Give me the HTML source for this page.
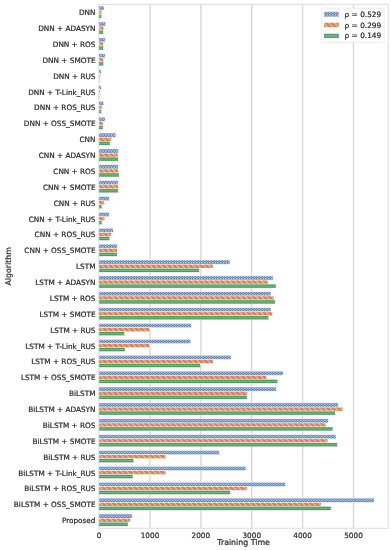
<!DOCTYPE html>
<html><head><meta charset="utf-8"><title>Training Time</title>
<style>
html,body{margin:0;padding:0;background:#fff;}
body{width:391px;height:550px;overflow:hidden;}
svg{display:block;}
text{font-family:"DejaVu Sans","Liberation Sans",sans-serif;fill:#262626;stroke:#262626;stroke-width:0.2px;}
</style></head><body>
<svg width="391" height="550" viewBox="0 0 391 550">
<defs>
<pattern id="hx" patternUnits="userSpaceOnUse" width="2.6667" height="2.6667" x="2.05" y="1.63">
<rect width="2.6667" height="2.6667" fill="#4a6fae"/>
<path d="M-1,-1 L3.6667,3.6667 M3.6667,-1 L-1,3.6667 M-1,1 L1,-1 M1.6667,3.6667 L3.6667,1.6667 M1.6667,-1 L3.6667,1 M-1,1.6667 L1,3.6667" stroke="#fff" stroke-width="0.5"/>
</pattern>
<pattern id="hxl" patternUnits="userSpaceOnUse" width="2.6667" height="2.6667" x="2.05" y="1.63">
<rect width="2.6667" height="2.6667" fill="#4a6fae"/>
<path d="M-1,-1 L3.6667,3.6667 M3.6667,-1 L-1,3.6667 M-1,1 L1,-1 M1.6667,3.6667 L3.6667,1.6667 M1.6667,-1 L3.6667,1 M-1,1.6667 L1,3.6667" stroke="#fff" stroke-width="0.5"/>
</pattern>
<pattern id="hb" patternUnits="userSpaceOnUse" width="5.3333" height="5.3333" x="2.1" y="0.0">
<rect width="5.3333" height="5.3333" fill="#dd8452"/>
<path d="M-1,-1 L6.3333,6.3333 M-1,4.3333 L1,6.3333 M4.3333,-1 L6.3333,1" stroke="#fff" stroke-width="0.7"/>
</pattern>
</defs>
<rect width="391" height="550" fill="#fff"/>

<line x1="150.0" y1="4.5" x2="150.0" y2="528.3" stroke="#d9d9d9" stroke-width="1.4"/>
<line x1="200.875" y1="4.5" x2="200.875" y2="528.3" stroke="#d9d9d9" stroke-width="1.4"/>
<line x1="251.75" y1="4.5" x2="251.75" y2="528.3" stroke="#d9d9d9" stroke-width="1.4"/>
<line x1="302.625" y1="4.5" x2="302.625" y2="528.3" stroke="#d9d9d9" stroke-width="1.4"/>
<line x1="353.5" y1="4.5" x2="353.5" y2="528.3" stroke="#d9d9d9" stroke-width="1.4"/>
<rect x="98.9" y="4.5" width="289.29999999999995" height="523.8" fill="none" stroke="#e2e2e2" stroke-width="1.2"/>
<rect x="98.90" y="6.03" width="5.22" height="4.27" fill="url(#hx)" stroke="#fff" stroke-width="0.45"/>
<rect x="98.90" y="10.30" width="2.92" height="3.97" fill="url(#hb)" stroke="#fff" stroke-width="0.45"/>
<rect x="98.90" y="14.27" width="2.72" height="3.97" fill="#4a9c5f" stroke="#fff" stroke-width="0.45"/>
<line x1="99.20" y1="16.25" x2="101.32" y2="16.25" stroke="#fff" stroke-opacity="0.3" stroke-width="0.9"/>
<rect x="98.90" y="21.91" width="6.72" height="4.27" fill="url(#hx)" stroke="#fff" stroke-width="0.45"/>
<rect x="98.90" y="26.17" width="4.92" height="3.97" fill="url(#hb)" stroke="#fff" stroke-width="0.45"/>
<rect x="98.90" y="30.14" width="4.42" height="3.97" fill="#4a9c5f" stroke="#fff" stroke-width="0.45"/>
<line x1="99.20" y1="32.13" x2="103.02" y2="32.13" stroke="#fff" stroke-opacity="0.3" stroke-width="0.9"/>
<rect x="98.90" y="37.78" width="6.22" height="4.27" fill="url(#hx)" stroke="#fff" stroke-width="0.45"/>
<rect x="98.90" y="42.05" width="4.52" height="3.97" fill="url(#hb)" stroke="#fff" stroke-width="0.45"/>
<rect x="98.90" y="46.02" width="4.42" height="3.97" fill="#4a9c5f" stroke="#fff" stroke-width="0.45"/>
<line x1="99.20" y1="48.00" x2="103.02" y2="48.00" stroke="#fff" stroke-opacity="0.3" stroke-width="0.9"/>
<rect x="98.90" y="53.65" width="6.22" height="4.27" fill="url(#hx)" stroke="#fff" stroke-width="0.45"/>
<rect x="98.90" y="57.92" width="4.72" height="3.97" fill="url(#hb)" stroke="#fff" stroke-width="0.45"/>
<rect x="98.90" y="61.89" width="4.72" height="3.97" fill="#4a9c5f" stroke="#fff" stroke-width="0.45"/>
<line x1="99.20" y1="63.87" x2="103.32" y2="63.87" stroke="#fff" stroke-opacity="0.3" stroke-width="0.9"/>
<rect x="98.90" y="69.52" width="2.32" height="4.27" fill="url(#hx)" stroke="#fff" stroke-width="0.45"/>
<rect x="98.90" y="73.79" width="1.52" height="3.97" fill="url(#hb)" stroke="#fff" stroke-width="0.45"/>
<rect x="98.90" y="77.76" width="0.52" height="3.97" fill="#4a9c5f" stroke="#fff" stroke-width="0.45"/>
<rect x="98.90" y="85.40" width="2.32" height="4.27" fill="url(#hx)" stroke="#fff" stroke-width="0.45"/>
<rect x="98.90" y="89.67" width="1.52" height="3.97" fill="url(#hb)" stroke="#fff" stroke-width="0.45"/>
<rect x="98.90" y="93.63" width="0.52" height="3.97" fill="#4a9c5f" stroke="#fff" stroke-width="0.45"/>
<rect x="98.90" y="101.27" width="4.92" height="4.27" fill="url(#hx)" stroke="#fff" stroke-width="0.45"/>
<rect x="98.90" y="105.54" width="3.02" height="3.97" fill="url(#hb)" stroke="#fff" stroke-width="0.45"/>
<rect x="98.90" y="109.51" width="2.62" height="3.97" fill="#4a9c5f" stroke="#fff" stroke-width="0.45"/>
<line x1="99.20" y1="111.49" x2="101.22" y2="111.49" stroke="#fff" stroke-opacity="0.3" stroke-width="0.9"/>
<rect x="98.90" y="117.14" width="6.22" height="4.27" fill="url(#hx)" stroke="#fff" stroke-width="0.45"/>
<rect x="98.90" y="121.41" width="4.12" height="3.97" fill="url(#hb)" stroke="#fff" stroke-width="0.45"/>
<rect x="98.90" y="125.38" width="4.12" height="3.97" fill="#4a9c5f" stroke="#fff" stroke-width="0.45"/>
<line x1="99.20" y1="127.36" x2="102.72" y2="127.36" stroke="#fff" stroke-opacity="0.3" stroke-width="0.9"/>
<rect x="98.90" y="133.02" width="16.92" height="4.27" fill="url(#hx)" stroke="#fff" stroke-width="0.45"/>
<rect x="98.90" y="137.28" width="12.52" height="3.97" fill="url(#hb)" stroke="#fff" stroke-width="0.45"/>
<rect x="98.90" y="141.25" width="11.12" height="3.97" fill="#4a9c5f" stroke="#fff" stroke-width="0.45"/>
<line x1="99.20" y1="143.24" x2="109.72" y2="143.24" stroke="#fff" stroke-opacity="0.3" stroke-width="0.9"/>
<rect x="98.90" y="148.89" width="19.62" height="4.27" fill="url(#hx)" stroke="#fff" stroke-width="0.45"/>
<rect x="98.90" y="153.16" width="19.02" height="3.97" fill="url(#hb)" stroke="#fff" stroke-width="0.45"/>
<rect x="98.90" y="157.12" width="19.32" height="3.97" fill="#4a9c5f" stroke="#fff" stroke-width="0.45"/>
<line x1="99.20" y1="159.11" x2="117.92" y2="159.11" stroke="#fff" stroke-opacity="0.3" stroke-width="0.9"/>
<rect x="98.90" y="164.76" width="19.32" height="4.27" fill="url(#hx)" stroke="#fff" stroke-width="0.45"/>
<rect x="98.90" y="169.03" width="19.32" height="3.97" fill="url(#hb)" stroke="#fff" stroke-width="0.45"/>
<rect x="98.90" y="173.00" width="20.12" height="3.97" fill="#4a9c5f" stroke="#fff" stroke-width="0.45"/>
<line x1="99.20" y1="174.98" x2="118.72" y2="174.98" stroke="#fff" stroke-opacity="0.3" stroke-width="0.9"/>
<rect x="98.90" y="180.63" width="19.32" height="4.27" fill="url(#hx)" stroke="#fff" stroke-width="0.45"/>
<rect x="98.90" y="184.90" width="19.52" height="3.97" fill="url(#hb)" stroke="#fff" stroke-width="0.45"/>
<rect x="98.90" y="188.87" width="19.32" height="3.97" fill="#4a9c5f" stroke="#fff" stroke-width="0.45"/>
<line x1="99.20" y1="190.85" x2="117.92" y2="190.85" stroke="#fff" stroke-opacity="0.3" stroke-width="0.9"/>
<rect x="98.90" y="196.51" width="10.32" height="4.27" fill="url(#hx)" stroke="#fff" stroke-width="0.45"/>
<rect x="98.90" y="200.77" width="5.52" height="3.97" fill="url(#hb)" stroke="#fff" stroke-width="0.45"/>
<rect x="98.90" y="204.74" width="3.02" height="3.97" fill="#4a9c5f" stroke="#fff" stroke-width="0.45"/>
<line x1="99.20" y1="206.73" x2="101.62" y2="206.73" stroke="#fff" stroke-opacity="0.3" stroke-width="0.9"/>
<rect x="98.90" y="212.38" width="10.32" height="4.27" fill="url(#hx)" stroke="#fff" stroke-width="0.45"/>
<rect x="98.90" y="216.65" width="5.92" height="3.97" fill="url(#hb)" stroke="#fff" stroke-width="0.45"/>
<rect x="98.90" y="220.62" width="3.02" height="3.97" fill="#4a9c5f" stroke="#fff" stroke-width="0.45"/>
<line x1="99.20" y1="222.60" x2="101.62" y2="222.60" stroke="#fff" stroke-opacity="0.3" stroke-width="0.9"/>
<rect x="98.90" y="228.25" width="14.32" height="4.27" fill="url(#hx)" stroke="#fff" stroke-width="0.45"/>
<rect x="98.90" y="232.52" width="12.32" height="3.97" fill="url(#hb)" stroke="#fff" stroke-width="0.45"/>
<rect x="98.90" y="236.49" width="10.82" height="3.97" fill="#4a9c5f" stroke="#fff" stroke-width="0.45"/>
<line x1="99.20" y1="238.47" x2="109.42" y2="238.47" stroke="#fff" stroke-opacity="0.3" stroke-width="0.9"/>
<rect x="98.90" y="244.12" width="18.32" height="4.27" fill="url(#hx)" stroke="#fff" stroke-width="0.45"/>
<rect x="98.90" y="248.39" width="18.32" height="3.97" fill="url(#hb)" stroke="#fff" stroke-width="0.45"/>
<rect x="98.90" y="252.36" width="18.32" height="3.97" fill="#4a9c5f" stroke="#fff" stroke-width="0.45"/>
<line x1="99.20" y1="254.35" x2="116.92" y2="254.35" stroke="#fff" stroke-opacity="0.3" stroke-width="0.9"/>
<rect x="98.90" y="260.00" width="131.12" height="4.27" fill="url(#hx)" stroke="#fff" stroke-width="0.45"/>
<rect x="98.90" y="264.27" width="114.12" height="3.97" fill="url(#hb)" stroke="#fff" stroke-width="0.45"/>
<rect x="98.90" y="268.23" width="100.52" height="3.97" fill="#4a9c5f" stroke="#fff" stroke-width="0.45"/>
<line x1="99.20" y1="270.22" x2="199.12" y2="270.22" stroke="#fff" stroke-opacity="0.3" stroke-width="0.9"/>
<rect x="98.90" y="275.87" width="174.12" height="4.27" fill="url(#hx)" stroke="#fff" stroke-width="0.45"/>
<rect x="98.90" y="280.14" width="169.22" height="3.97" fill="url(#hb)" stroke="#fff" stroke-width="0.45"/>
<rect x="98.90" y="284.11" width="177.12" height="3.97" fill="#4a9c5f" stroke="#fff" stroke-width="0.45"/>
<line x1="99.20" y1="286.09" x2="275.72" y2="286.09" stroke="#fff" stroke-opacity="0.3" stroke-width="0.9"/>
<rect x="98.90" y="291.74" width="172.02" height="4.27" fill="url(#hx)" stroke="#fff" stroke-width="0.45"/>
<rect x="98.90" y="296.01" width="175.02" height="3.97" fill="url(#hb)" stroke="#fff" stroke-width="0.45"/>
<rect x="98.90" y="299.98" width="176.22" height="3.97" fill="#4a9c5f" stroke="#fff" stroke-width="0.45"/>
<line x1="99.20" y1="301.96" x2="274.82" y2="301.96" stroke="#fff" stroke-opacity="0.3" stroke-width="0.9"/>
<rect x="98.90" y="307.62" width="172.02" height="4.27" fill="url(#hx)" stroke="#fff" stroke-width="0.45"/>
<rect x="98.90" y="311.88" width="173.72" height="3.97" fill="url(#hb)" stroke="#fff" stroke-width="0.45"/>
<rect x="98.90" y="315.85" width="169.82" height="3.97" fill="#4a9c5f" stroke="#fff" stroke-width="0.45"/>
<line x1="99.20" y1="317.84" x2="268.42" y2="317.84" stroke="#fff" stroke-opacity="0.3" stroke-width="0.9"/>
<rect x="98.90" y="323.49" width="92.52" height="4.27" fill="url(#hx)" stroke="#fff" stroke-width="0.45"/>
<rect x="98.90" y="327.76" width="50.92" height="3.97" fill="url(#hb)" stroke="#fff" stroke-width="0.45"/>
<rect x="98.90" y="331.73" width="25.62" height="3.97" fill="#4a9c5f" stroke="#fff" stroke-width="0.45"/>
<line x1="99.20" y1="333.71" x2="124.22" y2="333.71" stroke="#fff" stroke-opacity="0.3" stroke-width="0.9"/>
<rect x="98.90" y="339.36" width="91.92" height="4.27" fill="url(#hx)" stroke="#fff" stroke-width="0.45"/>
<rect x="98.90" y="343.63" width="50.92" height="3.97" fill="url(#hb)" stroke="#fff" stroke-width="0.45"/>
<rect x="98.90" y="347.60" width="26.22" height="3.97" fill="#4a9c5f" stroke="#fff" stroke-width="0.45"/>
<line x1="99.20" y1="349.58" x2="124.82" y2="349.58" stroke="#fff" stroke-opacity="0.3" stroke-width="0.9"/>
<rect x="98.90" y="355.23" width="132.12" height="4.27" fill="url(#hx)" stroke="#fff" stroke-width="0.45"/>
<rect x="98.90" y="359.50" width="114.22" height="3.97" fill="url(#hb)" stroke="#fff" stroke-width="0.45"/>
<rect x="98.90" y="363.47" width="101.42" height="3.97" fill="#4a9c5f" stroke="#fff" stroke-width="0.45"/>
<line x1="99.20" y1="365.45" x2="200.02" y2="365.45" stroke="#fff" stroke-opacity="0.3" stroke-width="0.9"/>
<rect x="98.90" y="371.11" width="184.32" height="4.27" fill="url(#hx)" stroke="#fff" stroke-width="0.45"/>
<rect x="98.90" y="375.38" width="167.72" height="3.97" fill="url(#hb)" stroke="#fff" stroke-width="0.45"/>
<rect x="98.90" y="379.34" width="178.92" height="3.97" fill="#4a9c5f" stroke="#fff" stroke-width="0.45"/>
<line x1="99.20" y1="381.33" x2="277.52" y2="381.33" stroke="#fff" stroke-opacity="0.3" stroke-width="0.9"/>
<rect x="98.90" y="386.98" width="177.42" height="4.27" fill="url(#hx)" stroke="#fff" stroke-width="0.45"/>
<rect x="98.90" y="391.25" width="148.52" height="3.97" fill="url(#hb)" stroke="#fff" stroke-width="0.45"/>
<rect x="98.90" y="395.22" width="148.22" height="3.97" fill="#4a9c5f" stroke="#fff" stroke-width="0.45"/>
<line x1="99.20" y1="397.20" x2="246.82" y2="397.20" stroke="#fff" stroke-opacity="0.3" stroke-width="0.9"/>
<rect x="98.90" y="402.85" width="239.42" height="4.27" fill="url(#hx)" stroke="#fff" stroke-width="0.45"/>
<rect x="98.90" y="407.12" width="244.02" height="3.97" fill="url(#hb)" stroke="#fff" stroke-width="0.45"/>
<rect x="98.90" y="411.09" width="236.32" height="3.97" fill="#4a9c5f" stroke="#fff" stroke-width="0.45"/>
<line x1="99.20" y1="413.07" x2="334.92" y2="413.07" stroke="#fff" stroke-opacity="0.3" stroke-width="0.9"/>
<rect x="98.90" y="418.72" width="229.42" height="4.27" fill="url(#hx)" stroke="#fff" stroke-width="0.45"/>
<rect x="98.90" y="422.99" width="227.12" height="3.97" fill="url(#hb)" stroke="#fff" stroke-width="0.45"/>
<rect x="98.90" y="426.96" width="234.02" height="3.97" fill="#4a9c5f" stroke="#fff" stroke-width="0.45"/>
<line x1="99.20" y1="428.95" x2="332.62" y2="428.95" stroke="#fff" stroke-opacity="0.3" stroke-width="0.9"/>
<rect x="98.90" y="434.60" width="237.12" height="4.27" fill="url(#hx)" stroke="#fff" stroke-width="0.45"/>
<rect x="98.90" y="438.87" width="228.92" height="3.97" fill="url(#hb)" stroke="#fff" stroke-width="0.45"/>
<rect x="98.90" y="442.83" width="238.52" height="3.97" fill="#4a9c5f" stroke="#fff" stroke-width="0.45"/>
<line x1="99.20" y1="444.82" x2="337.12" y2="444.82" stroke="#fff" stroke-opacity="0.3" stroke-width="0.9"/>
<rect x="98.90" y="450.47" width="120.52" height="4.27" fill="url(#hx)" stroke="#fff" stroke-width="0.45"/>
<rect x="98.90" y="454.74" width="67.02" height="3.97" fill="url(#hb)" stroke="#fff" stroke-width="0.45"/>
<rect x="98.90" y="458.71" width="34.82" height="3.97" fill="#4a9c5f" stroke="#fff" stroke-width="0.45"/>
<line x1="99.20" y1="460.69" x2="133.42" y2="460.69" stroke="#fff" stroke-opacity="0.3" stroke-width="0.9"/>
<rect x="98.90" y="466.34" width="147.02" height="4.27" fill="url(#hx)" stroke="#fff" stroke-width="0.45"/>
<rect x="98.90" y="470.61" width="67.02" height="3.97" fill="url(#hb)" stroke="#fff" stroke-width="0.45"/>
<rect x="98.90" y="474.58" width="34.02" height="3.97" fill="#4a9c5f" stroke="#fff" stroke-width="0.45"/>
<line x1="99.20" y1="476.56" x2="132.62" y2="476.56" stroke="#fff" stroke-opacity="0.3" stroke-width="0.9"/>
<rect x="98.90" y="482.22" width="186.62" height="4.27" fill="url(#hx)" stroke="#fff" stroke-width="0.45"/>
<rect x="98.90" y="486.48" width="148.22" height="3.97" fill="url(#hb)" stroke="#fff" stroke-width="0.45"/>
<rect x="98.90" y="490.45" width="131.42" height="3.97" fill="#4a9c5f" stroke="#fff" stroke-width="0.45"/>
<line x1="99.20" y1="492.44" x2="230.02" y2="492.44" stroke="#fff" stroke-opacity="0.3" stroke-width="0.9"/>
<rect x="98.90" y="498.09" width="275.22" height="4.27" fill="url(#hx)" stroke="#fff" stroke-width="0.45"/>
<rect x="98.90" y="502.36" width="222.22" height="3.97" fill="url(#hb)" stroke="#fff" stroke-width="0.45"/>
<rect x="98.90" y="506.32" width="232.22" height="3.97" fill="#4a9c5f" stroke="#fff" stroke-width="0.45"/>
<line x1="99.20" y1="508.31" x2="330.82" y2="508.31" stroke="#fff" stroke-opacity="0.3" stroke-width="0.9"/>
<rect x="98.90" y="513.96" width="33.12" height="4.27" fill="url(#hx)" stroke="#fff" stroke-width="0.45"/>
<rect x="98.90" y="518.23" width="31.32" height="3.97" fill="url(#hb)" stroke="#fff" stroke-width="0.45"/>
<rect x="98.90" y="522.20" width="29.22" height="3.97" fill="#4a9c5f" stroke="#fff" stroke-width="0.45"/>
<line x1="99.20" y1="524.18" x2="127.82" y2="524.18" stroke="#fff" stroke-opacity="0.3" stroke-width="0.9"/>
<g font-size="7.3" text-anchor="end">
<text x="95.5" y="15.24">DNN</text>
<text x="95.5" y="31.11">DNN + ADASYN</text>
<text x="95.5" y="46.98">DNN + ROS</text>
<text x="95.5" y="62.85">DNN + SMOTE</text>
<text x="95.5" y="78.73">DNN + RUS</text>
<text x="95.5" y="94.60">DNN + T-Link_RUS</text>
<text x="95.5" y="110.47">DNN + ROS_RUS</text>
<text x="95.5" y="126.35">DNN + OSS_SMOTE</text>
<text x="95.5" y="142.22">CNN</text>
<text x="95.5" y="158.09">CNN + ADASYN</text>
<text x="95.5" y="173.96">CNN + ROS</text>
<text x="95.5" y="189.84">CNN + SMOTE</text>
<text x="95.5" y="205.71">CNN + RUS</text>
<text x="95.5" y="221.58">CNN + T-Link_RUS</text>
<text x="95.5" y="237.45">CNN + ROS_RUS</text>
<text x="95.5" y="253.33">CNN + OSS_SMOTE</text>
<text x="95.5" y="269.20">LSTM</text>
<text x="95.5" y="285.07">LSTM + ADASYN</text>
<text x="95.5" y="300.95">LSTM + ROS</text>
<text x="95.5" y="316.82">LSTM + SMOTE</text>
<text x="95.5" y="332.69">LSTM + RUS</text>
<text x="95.5" y="348.56">LSTM + T-Link_RUS</text>
<text x="95.5" y="364.44">LSTM + ROS_RUS</text>
<text x="95.5" y="380.31">LSTM + OSS_SMOTE</text>
<text x="95.5" y="396.18">BiLSTM</text>
<text x="95.5" y="412.05">BiLSTM + ADASYN</text>
<text x="95.5" y="427.93">BiLSTM + ROS</text>
<text x="95.5" y="443.80">BiLSTM + SMOTE</text>
<text x="95.5" y="459.67">BiLSTM + RUS</text>
<text x="95.5" y="475.55">BiLSTM + T-Link_RUS</text>
<text x="95.5" y="491.42">BiLSTM + ROS_RUS</text>
<text x="95.5" y="507.29">BiLSTM + OSS_SMOTE</text>
<text x="95.5" y="523.16">Proposed</text>
</g>
<g font-size="7.3" text-anchor="middle">
<text x="99.125" y="537.6">0</text>
<text x="150.0" y="537.6">1000</text>
<text x="200.875" y="537.6">2000</text>
<text x="251.75" y="537.6">3000</text>
<text x="302.625" y="537.6">4000</text>
<text x="353.5" y="537.6">5000</text>
</g>
<text x="243.6" y="545.4" font-size="7.85" text-anchor="middle">Training Time</text>
<text transform="translate(11,266.4) rotate(-90)" font-size="7.85" text-anchor="middle">Algorithm</text>
<rect x="321.3" y="8.2" width="62.89999999999998" height="34.0" rx="1.6" fill="#fff" stroke="#e2e2e2" stroke-width="0.7"/>
<rect x="323.9" y="11.7" width="15.1" height="5.2" fill="url(#hxl)" stroke="#fff" stroke-width="0.4"/>
<text x="344.6" y="17.1" font-size="7.38">ρ = 0.529</text>
<rect x="323.9" y="22.6" width="15.1" height="4.7" fill="url(#hb)" stroke="#fff" stroke-width="0.4"/>
<text x="344.6" y="27.7" font-size="7.38">ρ = 0.299</text>
<rect x="323.9" y="33.6" width="15.1" height="4.5" fill="#4a9c5f" stroke="#fff" stroke-width="0.4"/>
<rect x="325.2" y="34.8" width="12.5" height="2.1" fill="#fff" fill-opacity="0.22"/>
<text x="344.6" y="38.4" font-size="7.38">ρ = 0.149</text>
</svg>
</body></html>
